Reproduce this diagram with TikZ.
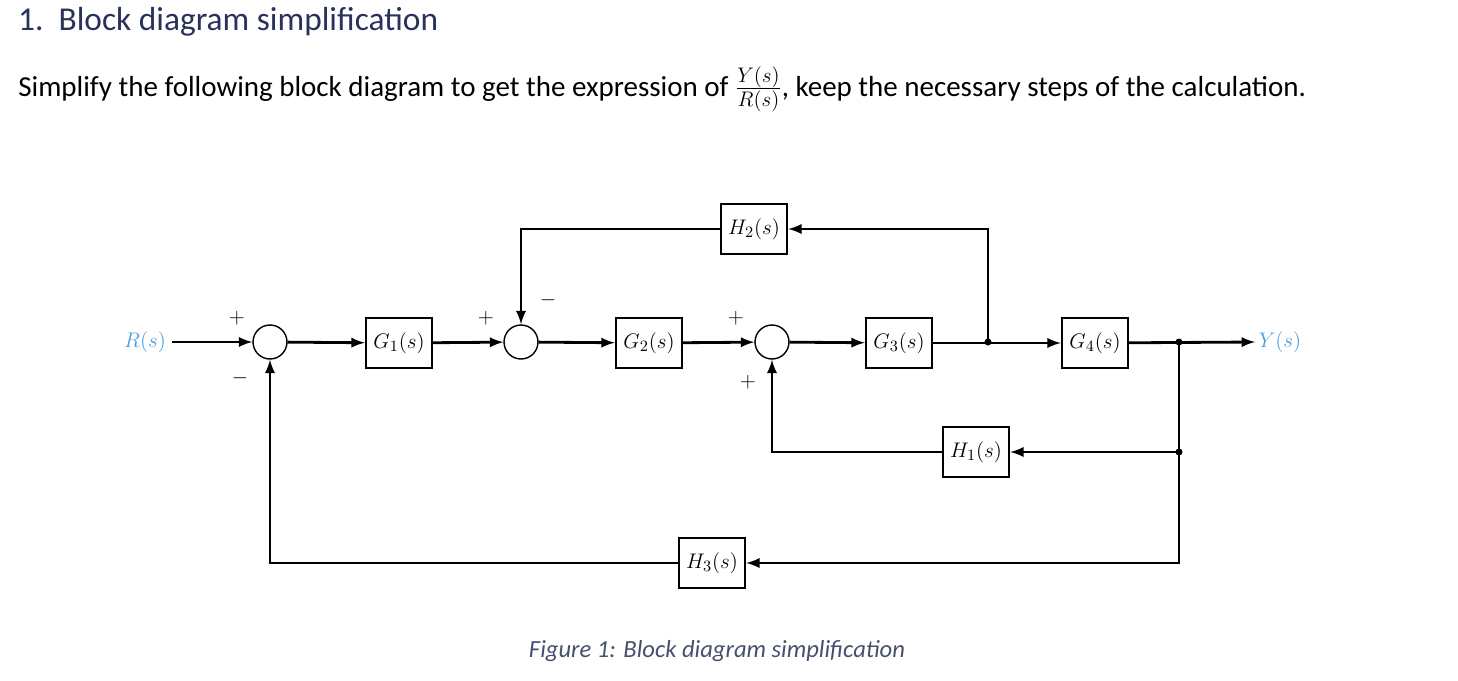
\documentclass[tikz,border=0pt]{standalone}
\usepackage{fontspec}
\setmainfont{Carlito}
\begin{document}
\begin{tikzpicture}[x=0.02cm,y=-0.02cm]
\tikzset{ >=latex, blk/.style={draw, line width=1.4pt, minimum width=1.32cm, minimum height=1.0cm, inner sep=0pt, font=\fontsize{13}{15}\selectfont},
  sum/.style={draw, thick, circle, minimum size=0.68cm, inner sep=0pt},
  sig/.style={line width=1.6pt}, lbl/.style={font=\fontsize{12}{14}\selectfont} }
\definecolor{headblue}{RGB}{40,50,90}
\definecolor{rsblue}{RGB}{70,160,220}
\definecolor{capgray}{RGB}{70,80,110}
\useasboundingbox (0,0) rectangle (1458,680);
%\draw [lightgray] (0,0) grid[step=100] (1458,680);

\node [anchor=west, text=headblue, font=\fontsize{19}{22}\selectfont] (title) at (12,22) {1.\ \ Block diagram simplification};
\node [anchor=north west, text width=28cm, align=justify, inner sep=0pt, font=\fontsize{16.5}{30}\selectfont] (text) at (18,66)
  {Simplify the following block diagram to get the expression of $\mathversion{bold}\frac{Y(s)}{R(s)}$, keep the necessary steps of the calculation.};

\node [text=rsblue, lbl] (R) at (145,342) {$R(s)$};
\node [sum] (S1) at (270,342) {};
\node [blk] (G1) at (399,343) {$G_1(s)$};
\node [sum] (S2) at (521,342) {};
\node [blk] (G2) at (649,343) {$G_2(s)$};
\node [sum] (S3) at (772,342) {};
\node [blk] (G3) at (899,343) {$G_3(s)$};
\node [blk] (G4) at (1095,343) {$G_4(s)$};
\node [text=rsblue, lbl] (Y) at (1280,342) {$Y(s)$};
\node [blk] (H2) at (754,229) {$H_2(s)$};
\node [blk] (H1) at (976,452) {$H_1(s)$};
\node [blk] (H3) at (712,563) {$H_3(s)$};

\coordinate (B1) at (988,342);
\coordinate (B2) at (1179,342);
\coordinate (B3) at (1179,452);

\draw [->, sig] (R) -- (S1);
\draw [->, sig] (S1) -- (G1);
\draw [->, sig] (G1) -- (S2);
\draw [->, sig] (S2) -- (G2);
\draw [->, sig] (G2) -- (S3);
\draw [->, sig] (S3) -- (G3);
\draw [->, sig] (G3) -- (G4);
\draw [->, sig] (G4) -- (1255,342);

\draw [->, sig] (B1) |- (H2);
\draw [->, sig] (H2) -| (S2);
\draw [->, sig] (B2) |- (H1);
\draw [->, sig] (H1) -| (S3);
\draw [->, sig] (B3) |- (H3);
\draw [->, sig] (H3) -| (S1);

\fill (B1) circle (3.5); \fill (B2) circle (3.5); \fill (B3) circle (3.5);

\node [lbl] at (237,318) {$+$};
\node [lbl] at (240,378) {$-$};
\node [lbl] at (486,318) {$+$};
\node [lbl] at (548,300) {$-$};
\node [lbl] at (736,318) {$+$};
\node [lbl] at (748,382) {$+$};

\node [text=capgray, font=\fontsize{14}{16}\selectfont\itshape] (cap) at (717,651) {Figure 1: Block diagram simplification};
\end{tikzpicture}
\end{document}
